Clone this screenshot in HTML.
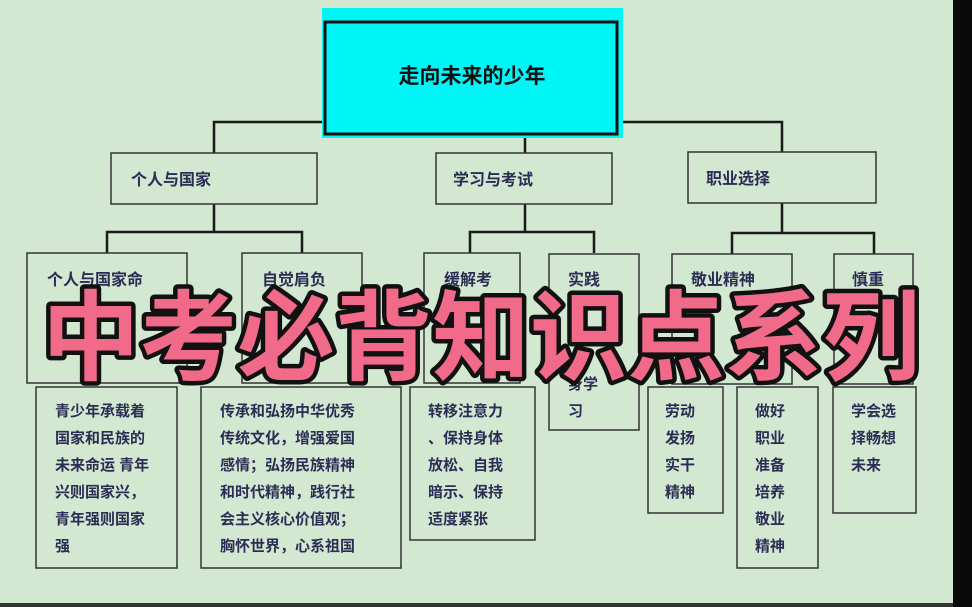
<!DOCTYPE html>
<html><head><meta charset="utf-8"><style>
html,body{margin:0;padding:0;background:#d3e8d0;}
svg{display:block}
text{font-family:"Liberation Sans","Noto Sans CJK SC",sans-serif;fill:#2b2d55;}
</style></head><body>
<svg width="972" height="607" viewBox="0 0 972 607" xmlns="http://www.w3.org/2000/svg">
<rect width="972" height="607" fill="#d3e8d0"/>
<rect x="953" y="0" width="19" height="607" fill="#0a0a0a"/>
<rect x="0" y="603" width="953" height="4" fill="#333"/>
<g stroke="#1a1a1a" stroke-width="2.5" fill="none">
<!-- root connectors -->
<polyline points="322,122 214,122 214,153"/>
<polyline points="622,122 782,122 782,152"/>
<line x1="525" y1="138" x2="525" y2="153"/>
<!-- level2 connectors -->
<line x1="214" y1="204" x2="214" y2="232"/>
<polyline points="107,253 107,232 302,232 302,253"/>
<line x1="525" y1="204" x2="525" y2="232"/>
<polyline points="470,253 470,232 594,232 594,253"/>
<line x1="782" y1="203" x2="782" y2="233"/>
<polyline points="732,254 732,233 874,233 874,254"/>
</g>
<!-- root -->
<rect x="322" y="8" width="301" height="130" fill="#00f6f6"/>
<rect x="325" y="22" width="292" height="112" fill="none" stroke="#111" stroke-width="3"/>
<text x="472" y="83" font-size="21" font-weight="bold" text-anchor="middle" style="fill:#111">走向未来的少年</text>
<g fill="none" stroke="#333" stroke-width="1.5">
<rect x="111" y="153" width="206" height="51"/>
<rect x="436" y="153" width="176" height="51"/>
<rect x="688" y="152" width="188" height="51"/>
<rect x="27" y="253" width="160" height="130"/>
<rect x="242" y="253" width="120" height="130"/>
<rect x="424" y="253" width="96" height="130"/>
<rect x="549" y="254" width="90" height="176"/>
<rect x="672" y="254" width="120" height="130"/>
<rect x="834" y="254" width="79" height="130"/>
<rect x="36" y="387" width="141" height="181"/>
<rect x="201" y="387" width="200" height="181"/>
<rect x="410" y="387" width="125" height="153"/>
<rect x="648" y="387" width="75" height="126"/>
<rect x="737" y="387" width="81" height="181"/>
<rect x="833" y="387" width="83" height="126"/>
</g>
<g font-size="16" font-weight="bold">
<text x="131" y="185">个人与国家</text>
<text x="453" y="185">学习与考试</text>
<text x="706" y="184">职业选择</text>
<text x="47" y="285">个人与国家命</text>
<text x="262" y="285">自觉肩负</text>
<text x="444" y="285">缓解考</text>
<text x="568" y="285">实践</text>
<text x="691" y="285">敬业精神</text>
<text x="852" y="285">慎重</text>
</g>
<g font-size="15" font-weight="bold">
<text x="55" y="416">青少年承载着</text>
<text x="55" y="443">国家和民族的</text>
<text x="55" y="470">未来命运 青年</text>
<text x="55" y="497">兴则国家兴，</text>
<text x="55" y="524">青年强则国家</text>
<text x="55" y="551">强</text>
<text x="220" y="416">传承和弘扬中华优秀</text>
<text x="220" y="443">传统文化，增强爱国</text>
<text x="220" y="470">感情；弘扬民族精神</text>
<text x="220" y="497">和时代精神，践行社</text>
<text x="220" y="524">会主义核心价值观；</text>
<text x="220" y="551">胸怀世界，心系祖国</text>
<text x="428" y="416">转移注意力</text>
<text x="428" y="443">、保持身体</text>
<text x="428" y="470">放松、自我</text>
<text x="428" y="497">暗示、保持</text>
<text x="428" y="524">适度紧张</text>
<text x="568" y="389">身学</text>
<text x="568" y="416">习</text>
<text x="665" y="416">劳动</text>
<text x="665" y="443">发扬</text>
<text x="665" y="470">实干</text>
<text x="665" y="497">精神</text>
<text x="755" y="416">做好</text>
<text x="755" y="443">职业</text>
<text x="755" y="470">准备</text>
<text x="755" y="497">培养</text>
<text x="755" y="524">敬业</text>
<text x="755" y="551">精神</text>
<text x="851" y="416">学会选</text>
<text x="851" y="443">择畅想</text>
<text x="851" y="470">未来</text>
</g>
<text x="42" y="372" font-size="98" font-weight="bold" textLength="878" lengthAdjust="spacingAndGlyphs"
 style="fill:#f26a8a;stroke:#111;stroke-width:9;stroke-linejoin:round;paint-order:stroke;font-family:'Noto Sans CJK SC',sans-serif">中考必背知识点系列</text>
</svg>
</body></html>
